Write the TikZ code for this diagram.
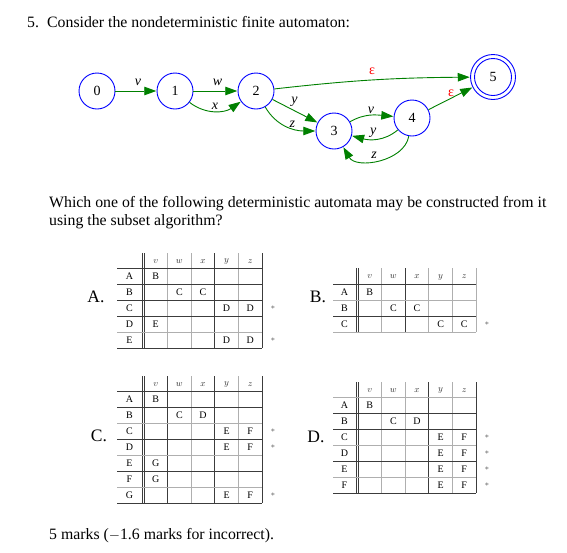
\documentclass[tikz,border=0pt]{standalone}
\usepackage{fontspec}
\setmainfont{Liberation Serif}
\usetikzlibrary{arrows.meta}
\definecolor{egreen}{RGB}{0,128,0}
\definecolor{tdark}{RGB}{60,60,60}
\definecolor{tgray}{RGB}{175,175,175}
\tikzset{
  st/.style={circle,draw=blue,line width=0.9pt,minimum size=36pt,inner sep=0pt,font=\fontsize{14}{16}\selectfont},
  ed/.style={draw=egreen,line width=0.9pt,-{Triangle[length=12pt,width=8.5pt]},shorten >=0.3pt},
  lab/.style={font=\fontsize{14}{16}\selectfont\itshape,inner sep=1pt},
  eps/.style={font=\fontsize{14}{16}\selectfont,text=red,inner sep=1pt},
  tline/.style={line width=0.8pt},
  hdr/.style={font=\fontsize{9}{10}\selectfont,inner sep=0pt,text=black!80},
  ent/.style={font=\fontsize{10}{11}\selectfont,inner sep=0pt},
  star/.style={font=\fontsize{8.5}{10}\selectfont,inner sep=0pt,text=black!70},
  big/.style={font=\fontsize{17.5}{20}\selectfont,inner sep=0pt},
  body/.style={font=\fontsize{15.8}{18}\selectfont,inner sep=0pt,anchor=west}
}
% table grid: #1 L, #2 Dx, #3 Ytop, #4 Yhead, #5 nrows, #6 horizontal colours, #7 vertical colours
\newcommand\tabgrid[7]{%
  \pgfmathsetmacro\ybot{#4+16*#5}%
  \xdef\TL{#1}\xdef\TD{#2}\xdef\TH{#4}%
  \draw[tline,draw=tdark] (#2,#3) -- (#2,\ybot);
  \draw[tline,draw=tdark] (#2+2,#3) -- (#2+2,\ybot);
  \foreach \c [count=\i] in {#7} {\draw[tline,draw=\c] ({#2+2+23.6*\i},#3) -- ({#2+2+23.6*\i},\ybot);}
  \foreach \c [count=\i from 0] in {#6} {\draw[tline,draw=\c] (#1,{#4+16*\i}) -- ({#2+2+23.6*5},{#4+16*\i});}
  \foreach \h [count=\i] in {v,w,x,y,z} {\node[hdr] at ({#2+2+23.6*\i-11.8},{(#3+#4)/2+1}) {$\h$};}
}
\newcommand\ent[3]{\node[ent] at ({\TD+2+23.6*#2-11.8},{\TH+16*#1-8}) {#3};}
\newcommand\rlab[2]{\node[ent] at ({(\TL+\TD)/2},{\TH+16*#1-8}) {#2};}
\newcommand\stent[1]{\node[star] at ({\TD+2+23.6*5+11},{\TH+16*#1-8}) {$\ast$};}
\begin{document}
\begin{tikzpicture}[x=1pt,y=-1pt]
\useasboundingbox (0,0) rectangle (567,552);
% text
\node[body] (qn) at (27,22) {5.};
\node[body] (qt) at (47,22) {Consider the nondeterministic finite automaton:};
\node[body,align=left] (q2) at (49,213) {Which one of the following deterministic automata may be constructed from it\\using the subset algorithm?};
\node[body] (marks) at (49,536) {5 marks ($-$1.6 marks for incorrect).};
% automaton
\node[st] (n0) at (97,91) {0};
\node[st] (n1) at (175,91) {1};
\node[st] (n2) at (256,91) {2};
\node[st] (n3) at (334,131) {3};
\node[st] (n4) at (412,118) {4};
\node[st,minimum size=45pt] (n5) at (493,77) {5};
\draw[blue,line width=0.9pt] (n5.center) circle (18.5);
\draw[ed] (n0) -- node[lab,above=4pt,xshift=2pt]{v} (n1);
\draw[ed] (n1) -- node[lab,above=4pt,xshift=2pt]{w} (n2);
\draw[ed] (n1) to[out=-38,in=-145] node[lab,above=0pt,pos=0.5]{x} (n2);
\draw[ed] (n2) to[bend left=3] node[eps,above=4pt]{ε} (n5);
\draw[ed] (n2) -- node[lab,above right=0pt,pos=0.3,xshift=4pt,yshift=-2pt]{y} (n3);
\draw[ed] (n2) to[out=-60,in=180] node[lab,above=0pt,pos=0.5,xshift=6pt,yshift=-3pt]{z} (n3);
\draw[ed] (n3) to[out=30,in=175] node[lab,above=0pt]{v} (n4);
\draw[ed] (n4) to[out=-140,in=-15] node[lab,above=0pt,pos=0.5,xshift=-3pt]{y} (n3);
\draw[ed] (n4) to[out=-100,in=-60] node[lab,above=0pt,pos=0.5,xshift=-5pt]{z} (n3);
\draw[ed] (n4) -- node[eps,above left=0pt,pos=0.5,xshift=5pt]{ε} (n5);
% Table A
\node[big] (labA) at (96,297) {A.};
\tabgrid{117}{142}{253}{268}{5}{tdark,tdark,tdark,tdark,tgray,tdark}{tgray,tgray,tdark,tgray,tdark}
\rlab1{A}\rlab2{B}\rlab3{C}\rlab4{D}\rlab5{E}
\ent11{B}\ent22{C}\ent23{C}\ent34{D}\ent35{D}\ent41{E}\ent54{D}\ent55{D}
\stent3\stent5
% Table B
\node[big] (labB) at (318,297) {B.};
\tabgrid{333}{356}{268}{284}{3}{tdark,tgray,tdark,tgray}{tgray,tdark,tgray,tgray,tgray}
\rlab1{A}\rlab2{B}\rlab3{C}
\ent11{B}\ent22{C}\ent23{C}\ent34{C}\ent35{C}
\stent3
% Table C
\node[big] (labC) at (99,436) {C.};
\tabgrid{117}{142}{376}{391}{7}{tdark,tdark,tgray,tdark,tgray,tdark,tgray,tdark}{tdark,tgray,tdark,tgray,tdark}
\rlab1{A}\rlab2{B}\rlab3{C}\rlab4{D}\rlab5{E}\rlab6{F}\rlab7{G}
\ent11{B}\ent22{C}\ent23{D}\ent34{E}\ent35{F}\ent44{E}\ent45{F}\ent51{G}\ent61{G}\ent74{E}\ent75{F}
\stent3\stent4\stent7
% Table D
\node[big] (labD) at (316,437) {D.};
\tabgrid{333}{356}{382}{397}{6}{tgray,tdark,tdark,tgray,tdark,tgray,tdark}{tgray,tgray,tdark,tgray,tdark}
\rlab1{A}\rlab2{B}\rlab3{C}\rlab4{D}\rlab5{E}\rlab6{F}
\ent11{B}\ent22{C}\ent23{D}\ent34{E}\ent35{F}\ent44{E}\ent45{F}\ent54{E}\ent55{F}\ent64{E}\ent65{F}
\stent3\stent4\stent5\stent6
\end{tikzpicture}
\end{document}
